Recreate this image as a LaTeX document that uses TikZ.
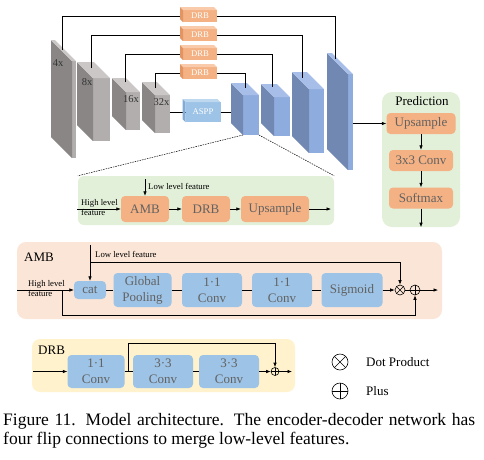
\documentclass[tikz,border=0pt]{standalone}
\usepackage{fontspec}
\setmainfont{Liberation Serif}
\usepackage{tikz}
\usetikzlibrary{positioning,calc,arrows.meta}
\definecolor{encSide}{RGB}{138,134,134}
\definecolor{encFront}{RGB}{178,174,173}
\definecolor{encTop}{RGB}{202,199,198}
\definecolor{decSide}{RGB}{113,136,178}
\definecolor{decFront}{RGB}{142,172,222}
\definecolor{decTop}{RGB}{166,190,232}
\definecolor{drbFace}{RGB}{244,177,131}
\definecolor{drbSide}{RGB}{226,148,98}
\definecolor{drbTop}{RGB}{249,203,170}
\definecolor{asppFace}{RGB}{157,195,230}
\definecolor{asppSide}{RGB}{130,172,214}
\definecolor{asppTop}{RGB}{190,216,240}
\definecolor{stepBlue}{RGB}{157,195,230}
\definecolor{greenBg}{RGB}{226,240,217}
\definecolor{peachBg}{RGB}{251,229,214}
\definecolor{yellowBg}{RGB}{255,242,204}
\definecolor{boxText}{RGB}{98,98,98}

\begin{document}
\begin{tikzpicture}[x=1pt,y=-1pt,
        wire/.style={draw=black,line width=0.6pt},
        arr/.style={wire,-{Latex[length=4.5pt,width=3.5pt]}},
        zoomline/.style={draw=black,line width=0.5pt,dash pattern=on 1.5pt off 1pt},
        face/.style={inner sep=0pt,outer sep=0pt},
        tagtext/.style={font=\fontsize{8.7}{9}\selectfont,text=white},
        blocklabel/.style={font=\fontsize{10.5}{11}\selectfont,text=black!80,inner sep=0pt},
        opbox/.style={rounded corners=4pt,inner sep=0pt,align=center,
                      font=\fontsize{13}{16}\selectfont,text=boxText},
        orangebox/.style={opbox,fill=drbFace},
        bluebox/.style={opbox,fill=stepBlue},
        panel/.style={rounded corners=8pt,inner sep=0pt},
        note/.style={font=\fontsize{8.7}{10}\selectfont,inner sep=0pt,align=left},
        heading/.style={font=\fontsize{13}{15}\selectfont,inner sep=0pt},
        mulsign/.style={circle,draw,line width=0.6pt,inner sep=0pt,minimum size=#1,
            path picture={\draw[line width=0.6pt] (path picture bounding box.north west) -- (path picture bounding box.south east)
                (path picture bounding box.south west) -- (path picture bounding box.north east);}},
        addsign/.style={circle,draw,line width=0.6pt,inner sep=0pt,minimum size=#1,
            path picture={\draw[line width=0.6pt] (path picture bounding box.north) -- (path picture bounding box.south)
                (path picture bounding box.west) -- (path picture bounding box.east);}}
    ]
    \useasboundingbox (0,0) rectangle (484,459);

    % Encoder
    \foreach \n/\xa/\ya/\xb/\yb in {e4/72/61/76/158, e8/93/78/110/141, e16/126/92/140/130, e32/155/95/170/133}
        \node[face,fill=encFront,minimum width=\xb-\xa,minimum height=\yb-\ya] (\n) at ({(\xa+\xb)/2},{(\ya+\yb)/2}) {};
    \foreach \n/\d in {e4/21,e8/16,e16/14,e32/13}{
        \fill[encSide] (\n.north west) -- ++(-\d,-\d) -- ($(\n.south west)+(-\d,-\d)$) -- (\n.south west) -- cycle;
        \fill[encTop] (\n.north west) -- ++(-\d,-\d) -- ($(\n.north east)+(-\d,-\d)$) -- (\n.north east) -- cycle;
    }
    \node[blocklabel] (l4) at (58,63) {4x};
    \node[blocklabel] (l8) at (87,82) {8x};
    \node[blocklabel] (l16) at (131,99.5) {16x};
    \node[blocklabel] (l32) at (161.5,102.5) {32x};

    % Decoder
    \foreach \n/\xa/\ya/\xb/\yb in {d1/243/95/259/135, d2/274/97/290/136, d3/309/89/324/153, d4/348/74/353/170}
        \node[face,fill=decFront,minimum width=\xb-\xa,minimum height=\yb-\ya] (\n) at ({(\xa+\xb)/2},{(\ya+\yb)/2}) {};
    \foreach \n/\d in {d1/12,d2/13,d3/17,d4/21}{
        \fill[decSide] (\n.north west) -- ++(-\d,-\d) -- ($(\n.south west)+(-\d,-\d)$) -- (\n.south west) -- cycle;
        \fill[decTop] (\n.north west) -- ++(-\d,-\d) -- ($(\n.north east)+(-\d,-\d)$) -- (\n.north east) -- cycle;
    }

    % DRB tags and ASPP
    \foreach \n/\y in {drb1/16,drb2/35,drb3/54,drb4/73}
        \node[face,fill=drbFace,minimum width=34,minimum height=12,tagtext] (\n) at (200,\y) {DRB};
    \node[face,fill=asppFace,minimum width=35,minimum height=20,tagtext] (aspp) at (203,112) {ASPP};

    % flip connections
    \coordinate (e4t) at (62,50);
    \coordinate (e8t) at (91,68);
    \coordinate (e16t) at (125.7,82);
    \coordinate (e32t) at (155.3,88);
    \coordinate (d4t) at (335,59);
    \coordinate (d3t) at (302.7,77.7);
    \coordinate (d2t) at (272.7,87);
    \coordinate (d1t) at (245,88);
    \coordinate (d1in) at (231,112);
    \draw[wire] (e4t) |- (drb1.west);
    \draw[wire] (drb1.east) -| (d4t);
    \draw[wire] (e8t) |- (drb2.west);
    \draw[wire] (drb2.east) -| (d3t);
    \draw[wire] (e16t) |- (drb3.west);
    \draw[wire] (drb3.east) -| (d2t);
    \draw[wire] (e32t) |- (drb4.west);
    \draw[wire] (drb4.east) -| (d1t);
    \draw[wire] (aspp.west -| e32.east) -- (aspp.west);
    \draw[wire] (aspp.east) -- (d1in);
    \foreach \n in {drb1,drb2,drb3,drb4}{
        \fill[drbTop] (\n.north west) -- ++(-3,-3) -- ($(\n.north east)+(-3,-3)$) -- (\n.north east) -- cycle;
        \fill[drbSide] (\n.north west) -- ++(-3,-3) -- ($(\n.south west)+(-3,-3)$) -- (\n.south west) -- cycle;
    }
    \fill[asppTop] (aspp.north west) -- ++(-3,-3) -- ($(aspp.north east)+(-3,-3)$) -- (aspp.north east) -- cycle;
    \fill[asppSide] (aspp.north west) -- ++(-3,-3) -- ($(aspp.south west)+(-3,-3)$) -- (aspp.south west) -- cycle;

    % Prediction
    \node[panel,rounded corners=10pt,fill=greenBg,minimum width=78,minimum height=135] (pred) at (421,159.5) {};
    \node[heading] (ptitle) at (422,101) {Prediction};
    \node[orangebox,minimum width=69,minimum height=21] (pup) at (421,123.5) {Upsample};
    \node[orangebox,minimum width=64,minimum height=21] (pconv) at (421,160.5) {3x3 Conv};
    \node[orangebox,minimum width=64,minimum height=21] (psoft) at (421,198) {Softmax};
    \draw[arr] (pup) -- (pconv);
    \draw[arr] (pconv) -- (psoft);
    \draw[arr] (psoft.south) -- (psoft.south |- pred.south);
    \draw[arr] (d4.east |- pup.west) -- (pup.west);

    % decoder step (zoom)
    \node[panel,rounded corners=6pt,fill=greenBg,minimum width=256,minimum height=49] (gbox) at (206,200.5) {};
    \draw[zoomline] (d1.south west) -- (gbox.north west);
    \draw[zoomline] (d1.south east) -- (gbox.north east);
    \node[orangebox,minimum width=48,minimum height=26] (gamb) at (145,209) {AMB};
    \node[orangebox,minimum width=48,minimum height=26] (gdrb) at (206,209) {DRB};
    \node[orangebox,minimum width=68,minimum height=26] (gup) at (275,209) {Upsample};
    \coordinate (glow) at (145,179);
    \coordinate (ghigh) at (77,209);
    \coordinate (gout) at (331,209);
    \node[note,anchor=west] (glowtext) at (148,186) {Low level feature};
    \node[note,anchor=west] (ghightext) at (81,208) {High level\\feature};
    \draw[arr] (glow) -- (gamb);
    \draw[arr] (ghigh) -- (gamb);
    \draw[arr] (gamb) -- (gdrb);
    \draw[arr] (gdrb) -- (gup);
    \draw[arr] (gup) -- (gout);

    % AMB
    \node[panel,rounded corners=9pt,fill=peachBg,minimum width=425,minimum height=77] (ambpanel) at (229.5,280.5) {};
    \node[heading,anchor=west] (ambtitle) at (24,257) {AMB};
    \node[bluebox,minimum width=32,minimum height=18] (cat) at (90,290) {cat};
    \node[bluebox,minimum width=58,minimum height=34] (gpool) at (142.5,290) {Global\\Pooling};
    \node[bluebox,minimum width=60,minimum height=34] (fc1) at (212,290) {1·1\\Conv};
    \node[bluebox,minimum width=60,minimum height=34] (fc2) at (282,290) {1·1\\Conv};
    \node[bluebox,minimum width=61,minimum height=34] (sig) at (352,290) {Sigmoid};
    \node[mulsign=10] (amul) at (400,290) {};
    \node[addsign=10] (aadd) at (415,290) {};
    \coordinate (alow) at (90,245);
    \coordinate (abend) at (90,262);
    \coordinate (ahigh) at (17,290);
    \coordinate (asplit) at (62,290);
    \coordinate (aback) at (62,315);
    \coordinate (aout) at (438,290);
    \node[note,anchor=west] (alowtext) at (95,254) {Low level feature};
    \node[note,anchor=west] (ahightext) at (28,289) {High level\\feature};
    \draw[arr] (alow) -- (cat.north);
    \draw[arr] (abend) -| (amul.north);
    \draw[arr] (ahigh) -- (cat.west);
    \draw[arr] (asplit) -- (aback) -| (aadd.south);
    \draw[wire] (cat) -- (gpool);
    \draw[wire] (gpool) -- (fc1);
    \draw[wire] (fc1) -- (fc2);
    \draw[wire] (fc2) -- (sig);
    \draw[arr] (sig) -- (amul);
    \draw[wire] (amul) -- (aadd);
    \draw[arr] (aadd) -- (aout);

    % DRB
    \node[panel,fill=yellowBg,minimum width=263,minimum height=53] (drbpanel) at (163.5,365.5) {};
    \node[heading,anchor=west] (drbtitle) at (38,350) {DRB};
    \node[bluebox,minimum width=57,minimum height=33] (k1) at (96,371.5) {1·1\\Conv};
    \node[bluebox,minimum width=60,minimum height=33] (k2) at (163,371.5) {3·3\\Conv};
    \node[bluebox,minimum width=60,minimum height=33] (k3) at (229,371.5) {3·3\\Conv};
    \node[addsign=8] (dadd) at (275,371.5) {};
    \coordinate (din) at (33,371.5);
    \coordinate (dsplit) at (128.5,371.5);
    \coordinate (dtop) at (128.5,343);
    \coordinate (dout) at (292,371.5);
    \draw[arr] (din) -- (k1);
    \draw[wire] (k1) -- (k2);
    \draw[wire] (k2) -- (k3);
    \draw[arr] (k3) -- (dadd);
    \draw[arr] (dsplit) -- (dtop) -| (dadd.north);
    \draw[arr] (dadd) -- (dout);

    % legend
    \node[mulsign=16] (keymul) at (340,362) {};
    \node[heading,anchor=west] (keymultext) at (366,362) {Dot Product};
    \node[addsign=16] (keyadd) at (340,391) {};
    \node[heading,anchor=west] (keyaddtext) at (366,391) {Plus};

    % caption
    \node[anchor=north west,inner sep=0pt,text width=472pt,align=justify,
          font=\fontsize{17.5}{19.5}\selectfont] (caption) at (3,413)
        {Figure 11. Model architecture. The encoder-decoder network has four flip connections to merge low-level features.};
\end{tikzpicture}
\end{document}
